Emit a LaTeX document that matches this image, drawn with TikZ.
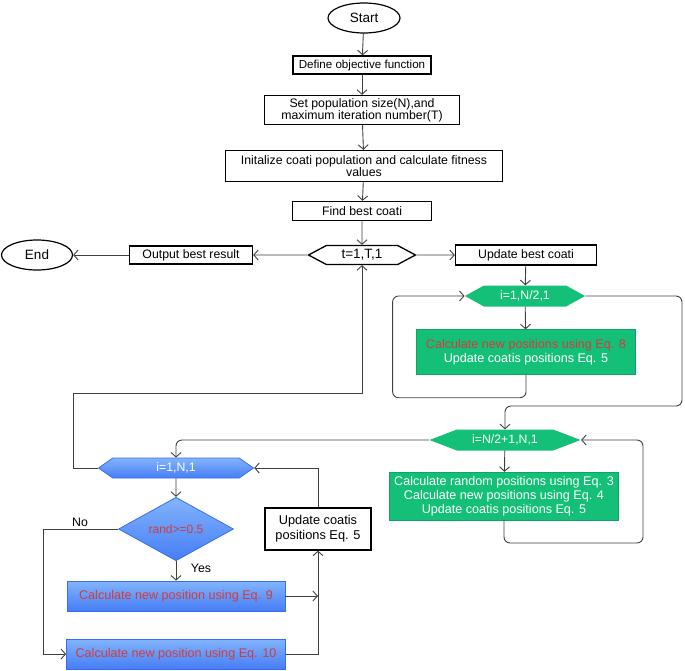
\documentclass[tikz,border=0pt]{standalone}
\usepackage{fontspec}
\setmainfont{Liberation Sans}
\usetikzlibrary{arrows.meta,shapes.geometric,shapes.symbols}

\definecolor{coatigreen}{RGB}{20,191,120}
\definecolor{blueline}{RGB}{55,110,240}
\definecolor{bluetop}{RGB}{130,180,252}
\definecolor{bluebot}{RGB}{70,125,245}
\definecolor{eqred}{RGB}{210,60,60}

\begin{document}
\begin{tikzpicture}[x=1pt, y=-1pt, >={Straight Barb[length=4.5pt,width=10pt]},
  font=\fontsize{12.3}{14}\selectfont,
  big/.style={font=\fontsize{13.5}{15}\selectfont},
  box/.style={draw, line width=1.3pt, rectangle, align=center, inner sep=1pt},
  term/.style={draw, line width=1.2pt, ellipse, inner sep=0pt, big},
  hexa/.style={signal, signal to=west and east, signal pointer angle=#1, inner sep=0pt},
  greenbox/.style={rectangle, fill=coatigreen, draw=coatigreen!85!black, text=white, align=center, inner sep=0pt, font=\fontsize{12.6}{14.2}\selectfont},
  bluebox/.style={top color=bluetop, bottom color=bluebot, draw=blueline, line width=0.8pt, text=eqred, inner sep=0pt, font=\fontsize{12.6}{14}\selectfont},
  flow/.style={draw=black!75, line width=0.9pt}]
\useasboundingbox (0,0) rectangle (685,670);

\node [term, minimum width=72pt, minimum height=30pt, name=start] at (364,18) {Start};
\node [box, minimum width=138pt, minimum height=18pt, font=\fontsize{11.6}{14}\selectfont, name=define] at (362,65) {Define objective function};
\node [box, minimum width=195pt, minimum height=29pt, name=setpop] at (362,110) {Set population size(N),and\\[-2pt]maximum iteration number(T)};
\node [box, minimum width=277pt, minimum height=31pt, name=init] at (364,166) {Initalize coati population and calculate fitness\\[-2pt]values};
\node [box, minimum width=139pt, minimum height=19pt, name=findbest] at (362,211) {Find best coati};
\node [hexa=56, draw, line width=1.3pt, minimum width=107pt, minimum height=19pt, big, name=tloop] at (362,255) {t=1,T,1};
\node [box, minimum width=123pt, minimum height=18pt, name=output] at (191,255) {Output best result};
\node [term, minimum width=71pt, minimum height=30pt, name=end] at (37,255) {End};
\node [box, minimum width=141pt, minimum height=20pt, name=updbest] at (526,255) {Update best coati};

\node [hexa=58, fill=coatigreen, text=white, minimum width=120pt, minimum height=21pt, name=gloop1] at (525,296) {i=1,N/2,1};
\node [greenbox, minimum width=219pt, minimum height=45pt, name=gbox1] at (526,352) {\textcolor{eqred}{Calculate new positions using Eq. 8}\\Update coatis positions Eq. 5};
\node [hexa=42, fill=coatigreen, text=white, minimum width=151pt, minimum height=21pt, name=gloop2] at (505,440) {i=N/2+1,N,1};
\node [greenbox, minimum width=229pt, minimum height=48pt, name=gbox2] at (504,496) {Calculate random positions using Eq. 3\\Calculate new positions using Eq. 4\\Update coatis positions Eq. 5};

\node [hexa=70, top color=bluetop, bottom color=bluebot, draw=blueline, line width=0.8pt, text=white, minimum width=155pt, minimum height=20pt, name=bloop] at (176,468) {i=1,N,1};
\node [diamond, bluebox, minimum width=115pt, minimum height=58pt, font=\fontsize{12}{14}\selectfont, name=rand] at (176,529) {rand>=0.5};
\node [bluebox, rectangle, minimum width=218pt, minimum height=30pt, name=eqnine] at (176,596) {Calculate new position using Eq. 9};
\node [bluebox, rectangle, minimum width=219pt, minimum height=30pt, name=eqten] at (176,654) {Calculate new position using Eq. 10};
\node [box, minimum width=106pt, minimum height=42pt, font=\fontsize{12.8}{15}\selectfont, name=updpos] at (318,529) {Update coatis\\positions Eq. 5};

\begin{scope}[flow]
  \draw [->] (start) -- (define);
  \draw [->] (define) -- (setpop);
  \draw [->] (setpop) -- (init);
  \draw [->] (init) -- (findbest);
  \draw [->] (findbest) -- (tloop);
  \draw [->] (tloop) -- (output);
  \draw [->] (output) -- (end);
  \draw [->] (tloop) -- (updbest);
  \draw [->] (updbest) -- (gloop1);
  \draw [->] (gloop1) -- (gbox1);
  \draw [->, rounded corners=6pt] (gbox1.south) -- ++(0,23) -| ([xshift=-72pt]gloop1.west) -- (gloop1.west);
  \draw [->, rounded corners=6pt] (gloop1.east) -| (682,406) -| (gloop2.north);
  \draw [->] (gloop2) -- (gbox2);
  \draw [->, rounded corners=6pt] (gbox2.south) |- (643,543) |- (gloop2.east);
  \draw [->, rounded corners=6pt] (gloop2.west) -| (bloop.north);
  \draw [->] (bloop.west) -| (73,393) -| (tloop.south);
  \draw [->] (bloop) -- (rand);
  \draw [->] (rand.south) -- (eqnine.north);
  \node [name=yeslabel] at (201,568) {Yes};
  \draw [->] (rand.west) -| (43,654) -- (eqten.west);
  \node [name=nolabel] at (80,522) {No};
  \draw [->] (eqnine.east) -- (eqnine.east -| updpos.south);
  \draw [->] (eqten.east) -| (updpos.south);
  \draw [->] (updpos.north) |- (bloop.east);
\end{scope}
\end{tikzpicture}
\end{document}
